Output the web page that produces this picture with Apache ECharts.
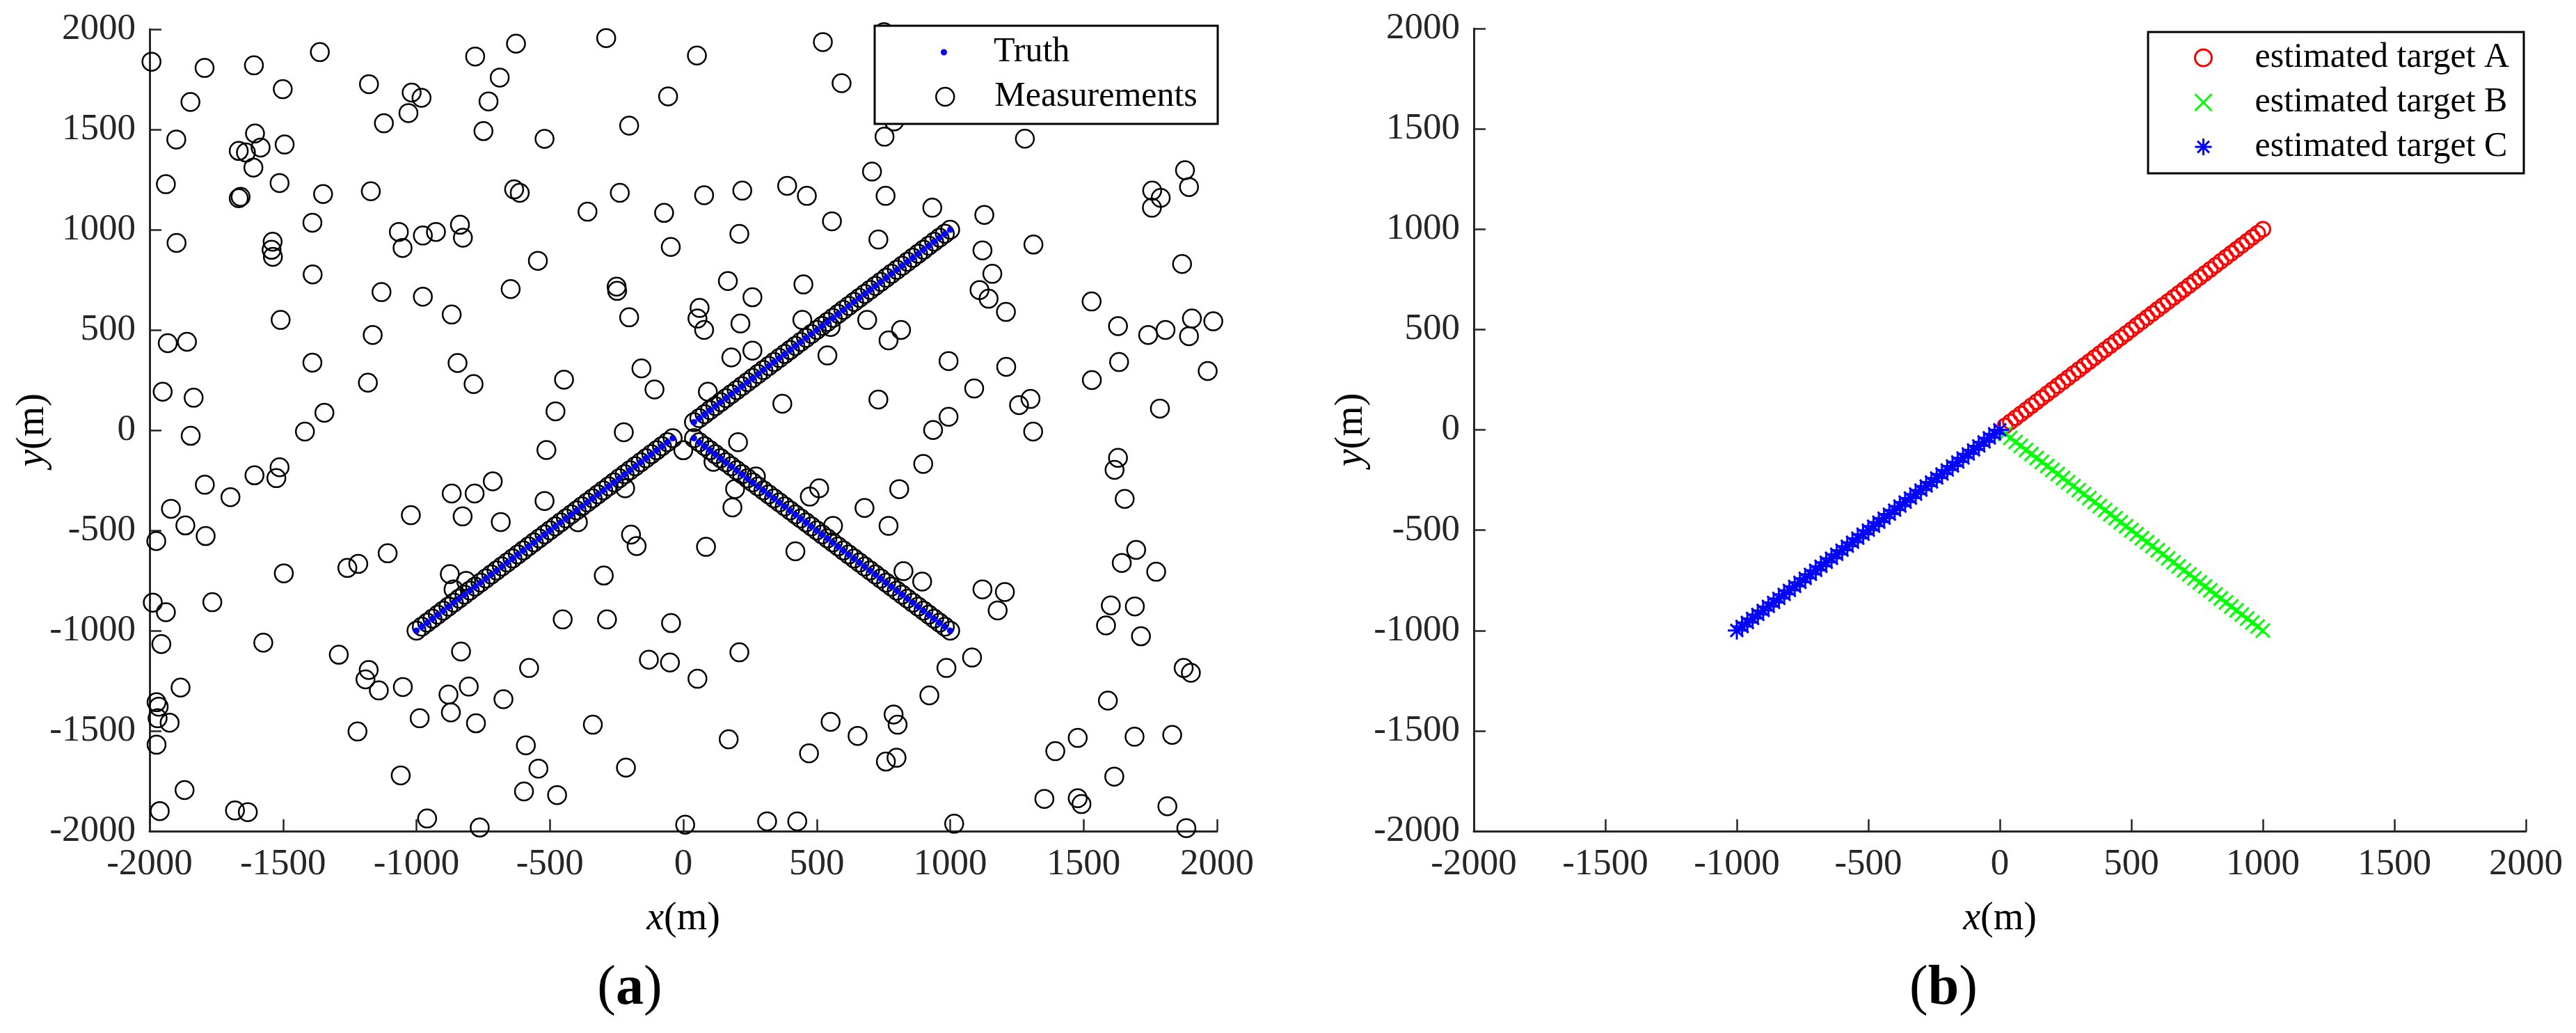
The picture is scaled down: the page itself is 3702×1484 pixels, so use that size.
<!DOCTYPE html>
<html>
<head>
<meta charset="utf-8">
<script src="https://cdn.jsdelivr.net/npm/echarts@6/dist/echarts.min.js"></script>
<style>
  html, body { margin: 0; padding: 0; background: #fff; }
  #main { width: 3702px; height: 1484px; }
</style>
</head>
<body>
<div id="main"></div>
<script>
// tick values shared by every axis
var axisMin = -2000
var axisMax = 2000
var axisStep = 500

var clutter = [
  [-1993,1838],[-1794,1807],[-1609,1820],[-1362,1886],[-1847,1637],[-1501,1701],[-1178,1726],[-1018,1684],
  [-981,1658],[-1030,1582],[-1122,1531],[-780,1864],[-627,1928],[-688,1759],[-730,1640],[-749,1492],
  [-520,1453],[-289,1956],[-57,1665],[-203,1519],[-1900,1450],[-1605,1480],[-1584,1410],[-1666,1393],
  [-1639,1385],[-1611,1310],[-1494,1425],[-1939,1227],[-1513,1233],[-1666,1157],[-1659,1164],[-1350,1178],
  [-1171,1192],[-634,1201],[-613,1184],[-238,1184],[-359,1090],[-72,1084],[-1390,1035],[-1899,934],
  [-1539,940],[-1543,900],[-1538,865],[-1066,989],[-1052,909],[-976,971],[-927,989],[-837,1025],
  [-826,960],[-545,845],[-47,914],[-1389,777],[-1131,689],[-976,666],[-868,577],[-647,704],
  [-250,716],[-248,695],[-203,563],[-1509,550],[-1164,475],[-1932,434],[-1860,441],[-1390,337],
  [-846,335],[-1182,237],[-786,230],[-447,252],[-157,308],[-108,203],[-1951,192],[-1835,162],
  [-1345,87],[-479,94],[-1846,-28],[-1418,-7],[-223,-10],[-513,-99],
  [-1513,-185],[-1525,-239],[-1607,-225],[-1793,-272],[-1697,-334],[-1920,-392],[-1866,-475],[-1790,-528],
  [-1975,-553],[-1497,-714],[-1988,-860],[-1939,-908],[-1765,-858],[-1956,-1067],[-1574,-1060],[-1884,-1284],
  [-1974,-1357],[-1966,-1379],[-1970,-1437],[-1925,-1459],[-1974,-1569],[-1869,-1795],[-1962,-1900],[-1680,-1897],
  [-1632,-1905],[-1259,-687],[-1218,-667],[-1108,-614],[-1021,-424],[-868,-316],[-782,-316],[-714,-255],
  [-827,-430],[-684,-458],[-520,-353],[-395,-459],[-218,-290],[-196,-521],[-175,-578],[-298,-725],
  [-452,-944],[-286,-944],[-46,-962],[-129,-1145],[-50,-1159],[-875,-718],[-861,-794],[-814,-752],
  [-1291,-1120],[-1179,-1196],[-1191,-1243],[-1141,-1298],[-1051,-1281],[-833,-1104],[-578,-1186],[-804,-1279],
  [-880,-1319],[-871,-1408],[-674,-1342],[-988,-1437],[-777,-1462],[-1221,-1503],[-339,-1469],[-590,-1572],
  [-543,-1688],[-215,-1683],[-1059,-1722],[-597,-1802],[-473,-1820],[-960,-1937],[-763,-1982],
  [51,1869],[523,1936],[593,1731],[752,1985],[754,1464],[790,1540],[1280,1454],[707,1290],
  [758,1169],[933,1110],[1128,1074],[78,1172],[221,1195],[389,1219],[463,1169],[557,1042],
  [210,979],[731,951],[1121,897],[1312,926],[1158,780],[1110,699],[1144,656],[1209,590],
  [1530,642],[1757,1195],[1789,1159],[1756,1110],[1880,1297],[1895,1213],[1869,829],[1629,519],
  [1742,475],[1807,500],[1906,557],[1895,469],[1986,543],[1633,340],[1531,250],[1965,295],
  [1786,108],[167,744],[450,727],[259,663],[61,610],[53,557],[78,500],[214,532],
  [446,550],[552,515],[689,550],[816,500],[769,448],[180,363],[259,397],[540,373],
  [994,345],[1210,316],[1090,208],[1258,125],[1301,156],[92,192],[371,132],[731,153],
  [994,67],[936,1],[1311,-7],[205,-60],
  [0,-100],[113,-158],[194,-293],[184,-385],[85,-582],[272,-231],[509,-290],[474,-331],
  [561,-477],[420,-604],[679,-388],[769,-477],[809,-294],[899,-168],[825,-703],[895,-755],
  [53,-1240],[210,-1108],[1082,-1134],[986,-1186],[1121,-794],[1205,-807],[1178,-899],[922,-1323],
  [788,-1418],[803,-1469],[552,-1455],[653,-1525],[170,-1542],[471,-1612],[759,-1653],[799,-1634],
  [314,-1951],[427,-1951],[7,-1968],[1015,-1963],[1629,-138],[1616,-198],[1654,-343],[1697,-597],
  [1643,-662],[1772,-706],[1602,-874],[1692,-879],[1584,-974],[1715,-1028],[1875,-1186],[1902,-1210],
  [1591,-1349],[1478,-1535],[1394,-1601],[1691,-1529],[1832,-1520],[1615,-1728],[1353,-1839],[1478,-1836],
  [1492,-1865],[1814,-1876],[1885,-1985]
]

// target positions along the tracks (every 20 m)
var truthPos = [40,60,80,100,120,140,160,180,200,220,240,260,280,300,320,340,360,380,400,420,
  440,460,480,500,520,540,560,580,600,620,640,660,680,700,720,740,760,780,800,820,
  840,860,880,900,920,940,960,980,1000]
var truthNeg = [-40,-60,-80,-100,-120,-140,-160,-180,-200,-220,-240,-260,-280,-300,-320,-340,-360,-380,-400,-420,
  -440,-460,-480,-500,-520,-540,-560,-580,-600,-620,-640,-660,-680,-700,-720,-740,-760,-780,-800,-820,
  -840,-860,-880,-900,-920,-940,-960,-980,-1000]

// estimated positions, panel (b)
var estPos = [20,40,60,80,100,120,140,160,180,200,220,240,260,280,300,320,340,360,380,400,420,
  440,460,480,500,520,540,560,580,600,620,640,660,680,700,720,740,760,780,800,820,
  840,860,880,900,920,940,960,980,1000]
var estNeg = [-20,-40,-60,-80,-100,-120,-140,-160,-180,-200,-220,-240,-260,-280,-300,-320,-340,-360,-380,-400,-420,
  -440,-460,-480,-500,-520,-540,-560,-580,-600,-620,-640,-660,-680,-700,-720,-740,-760,-780,-800,-820,
  -840,-860,-880,-900,-920,-940,-960,-980,-1000]
var estCx = [0,-20,-40,-60,-80,-100,-120,-140,-160,-180,-200,-220,-240,-260,-280,-300,-320,-340,-360,-380,-400,-420,
  -440,-460,-480,-500,-520,-540,-560,-580,-600,-620,-640,-660,-680,-700,-720,-740,-760,-780,-800,-820,
  -840,-860,-880,-900,-920,-940,-960,-980,-1000]

function zip(xs, ys) {
  var out = []
  for (var i = 0; i < xs.length; i++) out.push([xs[i], ys[i]])
  return out
}

var truthA = zip(truthPos, truthPos)
var truthB = zip(truthPos, truthNeg)
var truthC = zip(truthNeg, truthNeg)
var estA = zip(estPos, estPos)
var estB = zip(estPos, estNeg)
var estC = zip(estCx, estCx)

var FONT = 'Liberation Serif'
var AXIS_COLOR = '#262626'
var LEGEND_FS = 50
var CROSS = 'path://M0,0L10,10M10,0L0,10'
var STAR = 'path://M5,0L5,10M0,5L10,5M1.5,1.5L8.5,8.5M1.5,8.5L8.5,1.5'

function makeAxis(gridIndex, isY, gap) {
  return {
    type: 'value',
    gridIndex: gridIndex,
    min: axisMin,
    max: axisMax,
    interval: axisStep,
    name: isY ? '{i|y}(m)' : '{i|x}(m)',
    nameLocation: 'middle',
    nameGap: gap,
    nameRotate: isY ? 90 : 0,
    nameMoveOverlap: false,
    nameTextStyle: {
      fontFamily: FONT, fontSize: 56, color: '#000',
      rich: { i: { fontFamily: FONT, fontSize: 56, fontStyle: 'italic', color: '#000' } }
    },
    axisLine: { show: true, onZero: false, lineStyle: { color: AXIS_COLOR, width: 3 } },
    axisTick: { show: true, inside: true, length: 17, lineStyle: { color: AXIS_COLOR, width: 2.5 } },
    axisLabel: {
      show: true, margin: isY ? 20 : 22, showMinLabel: true, showMaxLabel: true,
      fontFamily: FONT, fontSize: 53, color: AXIS_COLOR,
      formatter: function (v) { return String(v) }
    },
    splitLine: { show: false }
  }
}

// legend entry: icon of a given size, text pushed right by a fixed pad
function legendBlock(left, top, size, pad, gap, items) {
  return {
    z: 20, orient: 'vertical', left: left, top: top, padding: 0,
    itemWidth: size, itemHeight: size, itemGap: gap, selectedMode: false,
    formatter: function (name) { return '{p| }' + name },
    textStyle: {
      fontFamily: FONT, fontSize: LEGEND_FS, lineHeight: LEGEND_FS, color: '#000',
      rich: { p: { width: pad, fontSize: LEGEND_FS, lineHeight: LEGEND_FS } }
    },
    data: items
  }
}

var chart = echarts.init(document.getElementById('main'), null, { renderer: 'canvas' })

var option = {
  backgroundColor: '#fff',
  animation: false,
  grid: [
    { left: 215, top: 42, width: 1534, height: 1152 },
    { left: 2118, top: 41, width: 1512, height: 1153 }
  ],
  xAxis: [makeAxis(0, false, 98), makeAxis(1, false, 98)],
  yAxis: [makeAxis(0, true, 140), makeAxis(1, true, 148)],
  legend: [
    legendBlock(1352, 50, 9, 62, 10, [
      { name: 'Truth', icon: 'circle', itemStyle: { color: '#0000ff', borderWidth: 0 } }
    ]),
    legendBlock(1344, 114, 26, 53, 10, [
      { name: 'Measurements', icon: 'circle', itemStyle: { color: 'rgba(0,0,0,0)', borderColor: '#000', borderWidth: 2.5 } }
    ]),
    legendBlock(3153, 58, 24, 57, 14, [
      { name: 'estimated target A', icon: 'circle', itemStyle: { color: 'rgba(0,0,0,0)', borderColor: '#ff0000', borderWidth: 3 } },
      { name: 'estimated target B', icon: CROSS, itemStyle: { color: 'rgba(0,0,0,0)', borderColor: '#00ff00', borderWidth: 3 } },
      { name: 'estimated target C', icon: STAR, itemStyle: { color: 'rgba(0,0,0,0)', borderColor: '#0000ff', borderWidth: 3 } }
    ])
  ],
  graphic: [
    { type: 'rect', z: 10, shape: { x: 1257, y: 37, width: 493, height: 141 },
      style: { fill: '#fff', stroke: '#000', lineWidth: 3 } },
    { type: 'rect', z: 10, shape: { x: 3087, y: 46, width: 540, height: 203 },
      style: { fill: '#fff', stroke: '#000', lineWidth: 3 } },
    { type: 'text', x: 905, y: 1421,
      style: { text: '({b|a})', fontFamily: FONT, fontSize: 80, fill: '#000', align: 'center', verticalAlign: 'middle',
        rich: { b: { fontFamily: FONT, fontSize: 80, fontWeight: 'bold', fill: '#000' } } } },
    { type: 'text', x: 2793, y: 1421,
      style: { text: '({b|b})', fontFamily: FONT, fontSize: 80, fill: '#000', align: 'center', verticalAlign: 'middle',
        rich: { b: { fontFamily: FONT, fontSize: 80, fontWeight: 'bold', fill: '#000' } } } }
  ],
  series: [
    {
      name: 'Measurements', type: 'scatter', xAxisIndex: 0, yAxisIndex: 0,
      data: clutter.concat(truthA, truthB, truthC),
      symbol: 'circle', symbolSize: 26, silent: true,
      itemStyle: { color: 'rgba(0,0,0,0)', borderColor: '#000', borderWidth: 2.5, opacity: 1 }
    },
    {
      name: 'Truth', type: 'scatter', xAxisIndex: 0, yAxisIndex: 0,
      data: truthA.concat(truthB, truthC),
      symbol: 'circle', symbolSize: 9, silent: true,
      itemStyle: { color: '#0000ff', borderWidth: 0, opacity: 1 }
    },
    {
      name: 'estimated target A', type: 'scatter', xAxisIndex: 1, yAxisIndex: 1,
      data: estA, symbol: 'circle', symbolSize: 21, silent: true,
      itemStyle: { color: 'rgba(0,0,0,0)', borderColor: '#ff0000', borderWidth: 3, opacity: 1 }
    },
    {
      name: 'estimated target B', type: 'scatter', xAxisIndex: 1, yAxisIndex: 1,
      data: estB, symbol: CROSS, symbolSize: 20, silent: true,
      itemStyle: { color: 'rgba(0,0,0,0)', borderColor: '#00ff00', borderWidth: 3, opacity: 1 }
    },
    {
      name: 'estimated target C', type: 'scatter', xAxisIndex: 1, yAxisIndex: 1,
      data: estC, symbol: STAR, symbolSize: 26, silent: true,
      itemStyle: { color: 'rgba(0,0,0,0)', borderColor: '#0000ff', borderWidth: 3, opacity: 1 }
    }
  ]
}

chart.setOption(option)
window.addEventListener('resize', chart.resize)
</script>
</body>
</html>
